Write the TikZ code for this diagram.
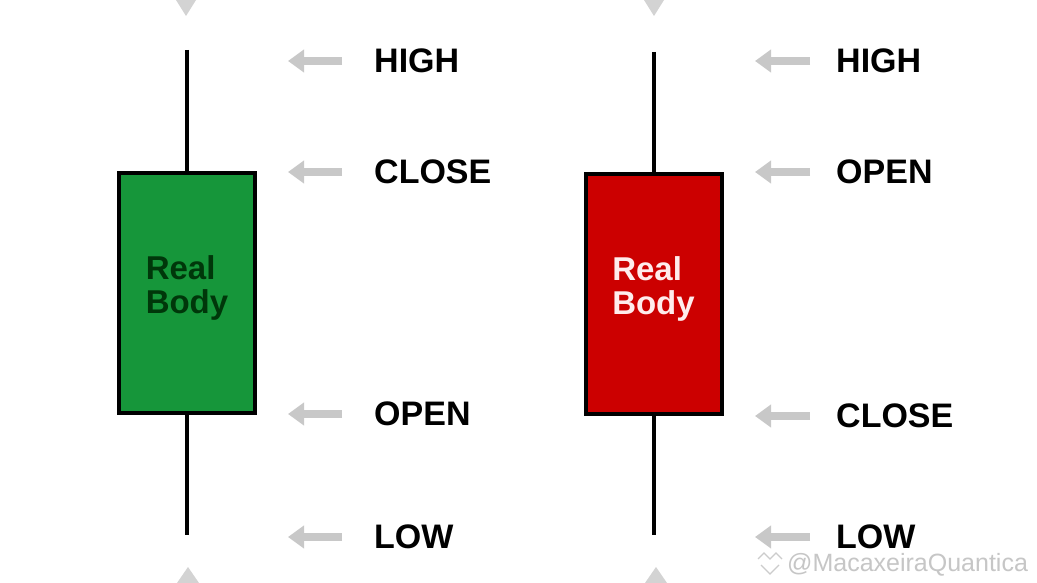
\documentclass[tikz,border=0pt]{standalone}
\usepackage{fontspec}
\setmainfont{Liberation Sans}
\usetikzlibrary{arrows.meta,positioning}
\definecolor{bullgreen}{RGB}{22,150,58}
\definecolor{bulltext}{RGB}{0,55,10}
\definecolor{bearred}{RGB}{204,0,0}
\definecolor{beartext}{RGB}{255,236,236}
\definecolor{pointer}{RGB}{200,200,200}

\begin{document}
\begin{tikzpicture}[x=1pt,y=-1pt,
  body/.style={draw=black,line width=4pt,minimum width=136pt,minimum height=240pt,inner sep=0pt},
  bodytext/.style={inner sep=0pt,align=left,font=\fontsize{33}{34}\selectfont\bfseries},
  wick/.style={line width=4pt},
  lbl/.style={anchor=west,inner sep=0pt,font=\fontsize{34}{36}\selectfont\bfseries},
  ptr/.style={pointer,line width=8pt,-{Triangle[length=16pt,width=22pt]}},
  tri/.style={fill=pointer!80}]
\useasboundingbox[fill=white] (0,0) rectangle (1037,583);
% bullish candle
\node[body,fill=bullgreen] (gbody) at (187,293) {};
\node[bodytext,text=bulltext] (gtext) at ([yshift=5pt]gbody.center) {Real\\Body};
\coordinate (ghigh) at (187,50);
\coordinate (glow) at (187,535);
\draw[wick] (ghigh)--(gbody.north);
\draw[wick] (gbody.south)--(glow);
% bearish candle
\node[body,fill=bearred] (rbody) at (653.5,294) {};
\node[bodytext,text=beartext] (rtext) at ([yshift=5pt]rbody.center) {Real\\Body};
\coordinate (rhigh) at (653.5,52);
\coordinate (rlow) at (653.5,535);
\draw[wick] (rhigh)--(rbody.north);
\draw[wick] (rbody.south)--(rlow);
% labels
\node[lbl] (ghi) at (374,61) {HIGH};
\node[lbl] (gcl) at (374,172) {CLOSE};
\node[lbl] (gop) at (374,414) {OPEN};
\node[lbl] (glo) at (374,537) {LOW};
\node[lbl] (rhi) at (836,61) {HIGH};
\node[lbl] (rop) at (836,172) {OPEN};
\node[lbl] (rcl) at (836,416) {CLOSE};
\node[lbl] (rlo) at (836,537) {LOW};
% pointers
\coordinate (pghi) at (288,61);
\coordinate (pgcl) at (288,172);
\coordinate (pgop) at (288,414);
\coordinate (pglo) at (288,537);
\coordinate (prhi) at (755,61);
\coordinate (prop) at (755,172);
\coordinate (prcl) at (755,416);
\coordinate (prlo) at (755,537);
\draw[ptr] ([xshift=-32pt]ghi.west)--(pghi);
\draw[ptr] ([xshift=-32pt]gcl.west)--(pgcl);
\draw[ptr] ([xshift=-32pt]gop.west)--(pgop);
\draw[ptr] ([xshift=-32pt]glo.west)--(pglo);
\draw[ptr] ([xshift=-26pt]rhi.west)--(prhi);
\draw[ptr] ([xshift=-26pt]rop.west)--(prop);
\draw[ptr] ([xshift=-26pt]rcl.west)--(prcl);
\draw[ptr] ([xshift=-26pt]rlo.west)--(prlo);
% cut-off markers
\fill[tri] (176,0)--(196,0)--(186,16)--cycle;
\fill[tri] (644,0)--(664,0)--(654,16)--cycle;
\fill[tri] (177,583)--(199,583)--(188,567)--cycle;
\fill[tri] (645,583)--(667,583)--(656,567)--cycle;
% watermark
\node[anchor=west,inner sep=0pt,text=gray!45,font=\fontsize{25}{25}\selectfont] (mark) at (787,565) {@MacaxeiraQuantica};
\draw[gray!40,line width=1.2pt] (758,559)--(764,553)--(770,559)--(776,553)--(782,559);
\draw[gray!40,line width=1.2pt] (761,565)--(770,574)--(779,565);
\end{tikzpicture}
\end{document}
